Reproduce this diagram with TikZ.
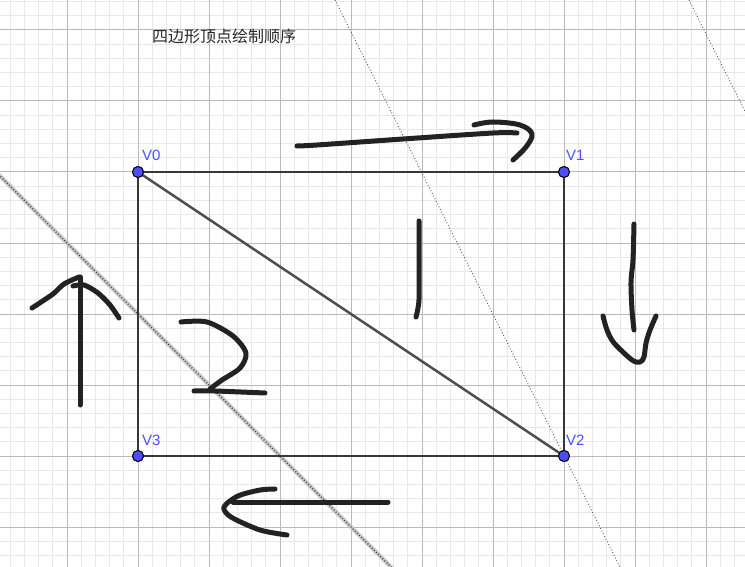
\documentclass[tikz,border=0pt]{standalone}
\usepackage{fontspec}
\newfontfamily\cjk{Noto Sans CJK SC}
\newfontfamily\labfont{Liberation Sans}
\definecolor{ggblue}{RGB}{77,77,255}
\definecolor{minorgrid}{RGB}{232,232,232}
\definecolor{majorgrid}{RGB}{186,186,186}
\definecolor{edgecol}{RGB}{55,55,55}
\definecolor{inkcol}{RGB}{34,34,34}
\tikzset{
  minorline/.style={draw=minorgrid, line width=1pt},
  majorline/.style={draw=majorgrid, line width=1pt},
  thindot/.style={draw=black!65, line width=0.9pt, dash pattern=on 0.9pt off 2.1pt},
  thickband/.style={draw=black!22, line width=4pt},
  thickdots/.style={draw=black!75, line width=1.4pt, dash pattern=on 1pt off 2pt},
  edge/.style={draw=edgecol, line width=2.4pt},
  pt/.style={circle, fill=ggblue, draw=black, line width=0.9pt, minimum size=11pt, inner sep=0pt},
  ptlabel/.style={text=ggblue, font=\labfont\fontsize{15}{17}\selectfont, anchor=base west, inner sep=0pt},
  hand/.style={draw=inkcol, line width=5pt, line cap=round, line join=round},
  title/.style={font=\cjk\fontsize{16}{18}\selectfont, text=black!85, anchor=west, inner sep=0pt}
}
\begin{document}
\begin{tikzpicture}[x=1pt,y=-1pt]
\useasboundingbox (0,0) rectangle (745,567);
\begin{scope}
\clip (0,0) rectangle (745,567);
% minor grid
\foreach \i in {-10,...,45} {
  \draw[minorline] ({138+\i*14.2},0) -- ({138+\i*14.2},567);
}
\foreach \i in {-13,...,30} {
  \draw[minorline] (0,{172+\i*14.2}) -- (745,{172+\i*14.2});
}
% major grid
\foreach \i in {-2,...,9} {
  \draw[majorline] ({138+\i*71},0) -- ({138+\i*71},567);
}
\foreach \i in {-3,...,6} {
  \draw[majorline] (0,{172+\i*71}) -- (745,{172+\i*71});
}
% dotted guide lines
\draw[thindot] (335,0) -- (620,567);
\draw[thindot] (689,0) -- (974,567);
\draw[thickband] (-10,166) -- (401,577);
\draw[thickdots] (-10,166) -- (401,577);
\end{scope}

% title
\node[title] (title) at (152,36) {四边形顶点绘制顺序};

% vertices
\node[pt] (V0) at (138,172) {};
\node[pt] (V1) at (564,172) {};
\node[pt] (V2) at (564,456) {};
\node[pt] (V3) at (138,456) {};

% edges
\draw[edge] (V0.center) -- (V1.center);
\draw[edge] (V1.center) -- (V2.center);
\draw[edge] (V2.center) -- (V3.center);
\draw[edge] (V3.center) -- (V0.center);
\draw[edge, draw=black!70] (V0.center) -- (V2.center);

% redraw points on top
\node[pt] at (V0) {};
\node[pt] at (V1) {};
\node[pt] at (V2) {};
\node[pt] at (V3) {};

% labels
\node[ptlabel] (L0) at (142,161) {V0};
\node[ptlabel] (L1) at (566,161) {V1};
\node[ptlabel] (L2) at (566,445) {V2};
\node[ptlabel] (L3) at (142,445) {V3};

% handwritten strokes
% top arrow
\draw[hand] plot[smooth, tension=0.5] coordinates {(297,146) (317,145) (403,139) (493,133) (517,133)};
\draw[hand] plot[smooth, tension=0.6] coordinates {(474,125) (493,122) (520,125) (532,134) (526,147) (513,160)};
% "1"
\draw[hand] plot[smooth, tension=0.5] coordinates {(419,221) (419,260) (419,300) (416,317)};
% right down arrow
\draw[hand] plot[smooth, tension=0.5] coordinates {(634,224) (633,260) (631,282) (632,310) (634,330)};
\draw[hand] plot[smooth, tension=0.5] coordinates {(603,316) (607,330) (614,343) (632,360) (640,362) (644,357) (646,343) (650,330) (656,316)};
% left up arrow
\draw[hand] plot[smooth, tension=0.5] coordinates {(80,405) (80,340) (80,277)};
\draw[hand] plot[smooth, tension=0.5] coordinates {(32,308) (53,294) (64,284) (79,277)};
\draw[hand] plot[smooth, tension=0.5] coordinates {(73,286) (84,285) (98,293) (110,305) (119,318)};
% "2"
\draw[hand] plot[smooth, tension=0.5] coordinates {(181,322) (207,322) (233,336) (246,353) (240,368) (222,380) (210,389)};
\draw[hand] plot[smooth, tension=0.4] coordinates {(194,391) (215,391) (265,393)};
% bottom left arrow
\draw[hand] (388,502) -- (233,502);
\draw[hand] plot[smooth, tension=0.5] coordinates {(275,489) (260,490) (238,496) (224,507) (231,517) (260,530) (287,535)};
\end{tikzpicture}
\end{document}
